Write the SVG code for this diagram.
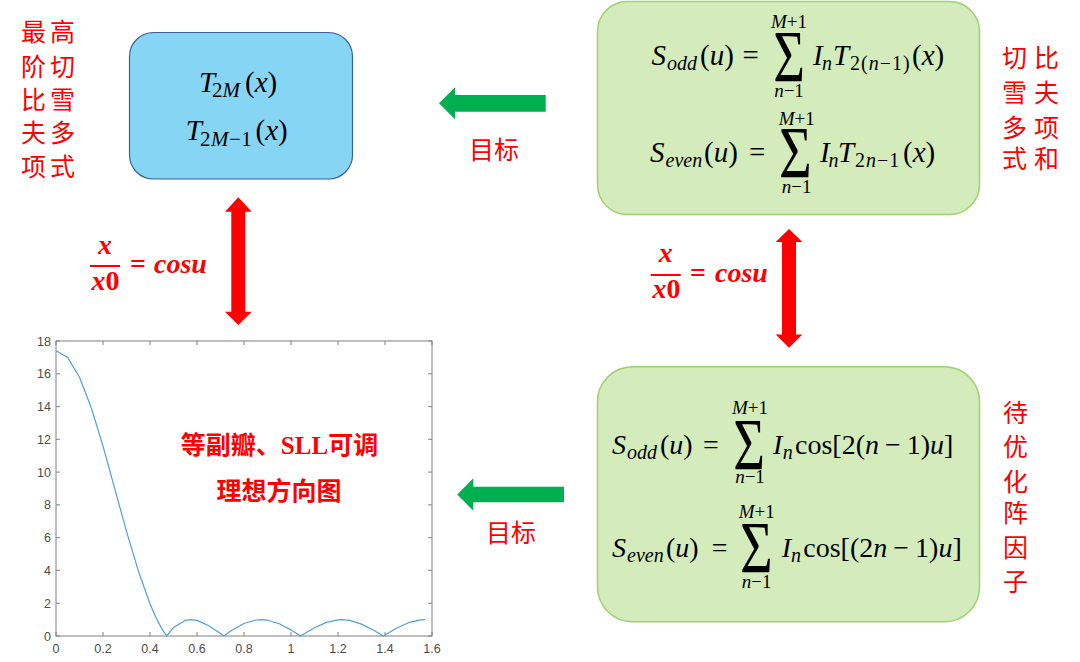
<svg xmlns="http://www.w3.org/2000/svg" width="1080" height="662" viewBox="0 0 1080 662">
<style>
.cn{font-family:"Noto Sans CJK SC","Noto Sans",sans-serif;fill:#ff0000;font-size:25px}
.m{font-family:"Liberation Serif","DejaVu Serif",serif;font-size:29px;fill:#000}
.m28{font-size:28px}
.i{font-style:italic}
.s{font-size:20px;font-style:italic}
.su{font-size:20px;font-style:normal}
.s21{font-size:21px}
.lim{font-family:"Liberation Serif","DejaVu Serif",serif;font-size:19px;fill:#000}
.sig{font-family:"Liberation Serif","DejaVu Serif",serif;font-size:73px;fill:#000}
.fr{font-family:"Liberation Serif","DejaVu Serif",serif;font-size:28px;font-weight:bold;font-style:italic;fill:#ff0000}
.up{font-style:normal}
.tk{font-family:"Liberation Sans",Arial,sans-serif;font-size:12.5px;fill:#4d4d4d}
.ax{stroke:#808080;stroke-width:1;fill:none}
.green{fill:#00b050}
.red{fill:#ff0000}
.gbox{fill:#d4ecbb;stroke:#9dd16c;stroke-width:1.5}
</style>

<g id="side-labels">
<g class="cn">
<text x="21" y="41.2" letter-spacing="4">最高</text>
<text x="21" y="75.5" letter-spacing="4">阶切</text>
<text x="21" y="108.5" letter-spacing="4">比雪</text>
<text x="21" y="142" letter-spacing="4">夫多</text>
<text x="21" y="176" letter-spacing="4">项式</text>
<text x="1002" y="67" letter-spacing="7">切比</text>
<text x="1002" y="102" letter-spacing="7">雪夫</text>
<text x="1002" y="137" letter-spacing="7">多项</text>
<text x="1002" y="168" letter-spacing="7">式和</text>
<text x="1003" y="421.5">待</text>
<text x="1003" y="455.5">优</text>
<text x="1003" y="491">化</text>
<text x="1003" y="522">阵</text>
<text x="1003" y="557">因</text>
<text x="1003" y="590.5">子</text>
</g>
</g>

<g id="node-chebyshev-high">
<rect x="129.5" y="32.5" width="223" height="146.5" rx="24" fill="#87d5f5" stroke="#3b5f97" stroke-width="1.2"/>
<text class="m" y="91.7"><tspan x="199" class="i">T</tspan><tspan x="212" y="97" class="su s21">2</tspan><tspan class="s s21">M</tspan><tspan x="245" y="91.7">(</tspan><tspan class="i">x</tspan><tspan>)</tspan></text>
<text class="m" y="140"><tspan x="185.7" class="i">T</tspan><tspan x="200" y="146" class="su s21" letter-spacing="0.5">2</tspan><tspan class="s s21" letter-spacing="0.5">M</tspan><tspan class="su s21" letter-spacing="0.5">−1</tspan><tspan x="255.5" y="140">(</tspan><tspan class="i">x</tspan><tspan>)</tspan></text>
</g>

<g id="node-chebyshev-sum">
<rect x="597.5" y="1.5" width="382" height="213" rx="30" class="gbox"/>
<text class="m" y="65"><tspan x="651.5" class="i">S</tspan><tspan x="667" y="70" class="s">odd</tspan><tspan x="700" y="65">(</tspan><tspan class="i">u</tspan><tspan>)</tspan><tspan x="742.5">=</tspan></text>
<text class="m" y="65"><tspan x="813" class="i">I</tspan><tspan x="822" y="70" class="s">n</tspan><tspan x="833" y="65" class="i">T</tspan><tspan x="850" y="70" class="su" letter-spacing="1">2(</tspan><tspan class="s" letter-spacing="1">n</tspan><tspan class="su" letter-spacing="1">−1)</tspan><tspan x="912" y="65">(</tspan><tspan class="i">x</tspan><tspan>)</tspan></text>
<text class="sig" x="773.3" y="81.7" textLength="31.7" lengthAdjust="spacingAndGlyphs">Σ</text>
<text class="lim" x="789" y="27.5" text-anchor="middle"><tspan class="i">M</tspan>+1</text>
<text class="lim" x="789" y="96.5" text-anchor="middle"><tspan class="i">n</tspan>−1</text>

<text class="m" y="161.7"><tspan x="650" class="i">S</tspan><tspan x="665.5" y="167" class="s">even</tspan><tspan x="704" y="161.7">(</tspan><tspan class="i">u</tspan><tspan>)</tspan><tspan x="749">=</tspan></text>
<text class="m" y="161.7"><tspan x="820" class="i">I</tspan><tspan x="828.5" y="167" class="s">n</tspan><tspan x="838" y="161.7" class="i">T</tspan><tspan x="855" y="167" class="su" letter-spacing="1">2</tspan><tspan class="s" letter-spacing="1">n</tspan><tspan class="su" letter-spacing="1">−1</tspan><tspan x="903" y="161.7">(</tspan><tspan class="i">x</tspan><tspan>)</tspan></text>
<text class="sig" x="779" y="178" textLength="32.7" lengthAdjust="spacingAndGlyphs">Σ</text>
<text class="lim" x="796.7" y="124.5" text-anchor="middle"><tspan class="i">M</tspan>+1</text>
<text class="lim" x="796.7" y="193" text-anchor="middle"><tspan class="i">n</tspan>−1</text>
</g>

<g id="node-array-factor">
<rect x="597.5" y="366.7" width="382" height="255" rx="35" class="gbox"/>
<text class="m m28" y="454"><tspan x="612" class="i">S</tspan><tspan x="627" y="459" class="s">odd</tspan><tspan x="660" y="454">(</tspan><tspan class="i">u</tspan><tspan>)</tspan><tspan x="703">=</tspan></text>
<text class="m m28" y="454" word-spacing="-1"><tspan x="773" class="i">I</tspan><tspan x="782.7" y="459" class="s">n</tspan><tspan x="795" y="454">cos[2(</tspan><tspan class="i">n</tspan><tspan> − 1)</tspan><tspan class="i">u</tspan><tspan>]</tspan></text>
<text class="sig" x="733.3" y="470" textLength="31.7" lengthAdjust="spacingAndGlyphs">Σ</text>
<text class="lim" x="750" y="414" text-anchor="middle"><tspan class="i">M</tspan>+1</text>
<text class="lim" x="750" y="483" text-anchor="middle"><tspan class="i">n</tspan>−1</text>

<text class="m m28" y="557"><tspan x="612" class="i">S</tspan><tspan x="627" y="562" class="s">even</tspan><tspan x="666" y="557">(</tspan><tspan class="i">u</tspan><tspan>)</tspan><tspan x="711.7">=</tspan></text>
<text class="m m28" y="557" word-spacing="-1"><tspan x="781.7" class="i">I</tspan><tspan x="791" y="562" class="s">n</tspan><tspan x="803.3" y="557">cos[(2</tspan><tspan class="i">n</tspan><tspan> − 1)</tspan><tspan class="i">u</tspan><tspan>]</tspan></text>
<text class="sig" x="740" y="573.3" textLength="32.7" lengthAdjust="spacingAndGlyphs">Σ</text>
<text class="lim" x="756.7" y="518" text-anchor="middle"><tspan class="i">M</tspan>+1</text>
<text class="lim" x="756.7" y="588" text-anchor="middle"><tspan class="i">n</tspan>−1</text>
</g>

<g id="node-pattern">
<rect x="56" y="341" width="376" height="295" fill="#ffffff" class="ax"/>
<path class="ax" d="M56,636v-4M103,636v-4M150,636v-4M197,636v-4M244,636v-4M291,636v-4M338,636v-4M385,636v-4M432,636v-4M56,341v4M103,341v4M150,341v4M197,341v4M244,341v4M291,341v4M338,341v4M385,341v4M432,341v4M56,636h4M56,603.2h4M56,570.4h4M56,537.7h4M56,504.9h4M56,472.1h4M56,439.3h4M56,406.6h4M56,373.8h4M56,341h4M432,636h-4M432,603.2h-4M432,570.4h-4M432,537.7h-4M432,504.9h-4M432,472.1h-4M432,439.3h-4M432,406.6h-4M432,373.8h-4M432,341h-4"/>
<g class="tk" text-anchor="middle">
<text x="56" y="653">0</text>
<text x="103" y="653">0.2</text>
<text x="150" y="653">0.4</text>
<text x="197" y="653">0.6</text>
<text x="244" y="653">0.8</text>
<text x="291" y="653">1</text>
<text x="338" y="653">1.2</text>
<text x="385" y="653">1.4</text>
<text x="432" y="653">1.6</text>
</g>
<g class="tk" text-anchor="end">
<text x="51" y="640.5">0</text>
<text x="51" y="607.7">2</text>
<text x="51" y="574.9">4</text>
<text x="51" y="542.2">6</text>
<text x="51" y="509.4">8</text>
<text x="51" y="476.6">10</text>
<text x="51" y="443.8">12</text>
<text x="51" y="411.1">14</text>
<text x="51" y="378.3">16</text>
<text x="51" y="345.5">18</text>
</g>
<polyline fill="none" stroke="#4f9fd9" stroke-width="1.2" stroke-linejoin="round" points="56,350.8 67.75,357.6 79.5,377.3 91.25,407.8 103,446.1 114.75,488.6 126.5,531.4 138.25,570.7 150,603.8 154.7,614.8 157,619.6 161.75,628.6 166.5,636 173.5,627.6 185.25,620.4 190.9,619.6 197,620.4 208.75,625.8 220.5,633.6 223.7,636 232.25,630.1 244,623.5 255.75,620 261.1,619.6 267.5,620.2 279.25,623.8 291,629.9 300.7,636 302.75,634.7 314.5,627.7 326.25,622.4 338,619.8 341.7,619.6 349.75,620.4 361.5,624.1 373.25,630 383.2,636 385,634.9 396.75,628 408.5,622.7 420.25,619.9 425.1,619.6"/>
<text class="cn" x="279.5" y="454" text-anchor="middle" font-weight="bold">等副瓣、<tspan font-family="Liberation Serif,serif">SLL</tspan>可调</text>
<text class="cn" x="279" y="499.5" text-anchor="middle" font-weight="bold">理想方向图</text>
</g>

<g id="connectors">
<polygon class="red" points="238.3,197.3 251.7,211.7 245.3,211.7 245.3,311.7 251.7,311.7 238.3,325 225,311.7 231.3,311.7 231.3,211.7 225,211.7"/>
<polygon class="red" points="789,229 802.3,242 796,242 796,334.5 802.3,334.5 789,347.7 775.7,334.5 782,334.5 782,242 775.7,242"/>
<polygon class="green" points="439,103.3 455,87.3 455,95 545.7,95 545.7,111.7 455,111.7 455,119.3"/>
<polygon class="green" points="457.3,494.5 473.3,478.3 473.3,486.7 564,486.7 564,502.3 473.3,502.3 473.3,510.7"/>
</g>

<g id="connector-labels">
<text class="cn" x="469" y="159" font-size="24">目标</text>
<text class="cn" x="486" y="542" font-size="24">目标</text>
<text class="fr" x="105" y="253.5" text-anchor="middle">x</text>
<rect x="90" y="265" width="30" height="2" class="red"/>
<text class="fr" x="105.5" y="290" text-anchor="middle">x<tspan class="up">0</tspan></text>
<text class="fr" x="130" y="273"><tspan class="up">=</tspan><tspan x="154">cosu</tspan></text>
<text class="fr" x="665.7" y="261.7" text-anchor="middle">x</text>
<rect x="650.7" y="274" width="30" height="2" class="red"/>
<text class="fr" x="666.5" y="298.3" text-anchor="middle">x<tspan class="up">0</tspan></text>
<text class="fr" x="690" y="281.7"><tspan class="up">=</tspan><tspan x="715">cosu</tspan></text>
</g>
</svg>
